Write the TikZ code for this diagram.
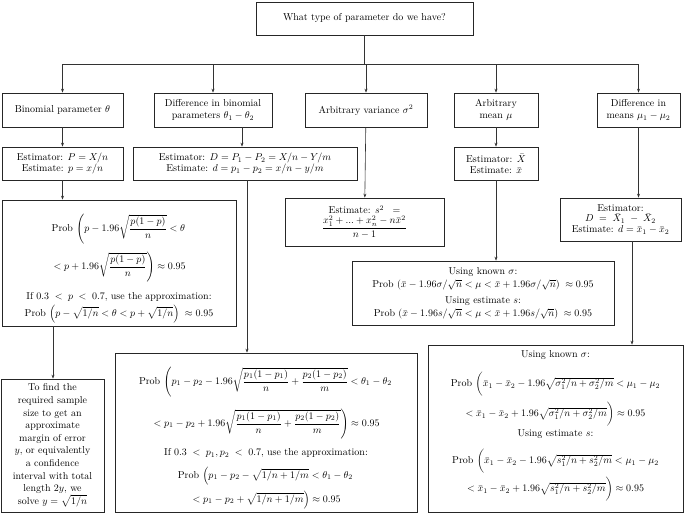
\documentclass[tikz,border=0pt]{standalone}
\usepackage{amsmath}
\usetikzlibrary{arrows.meta}
\begin{document}
\begin{tikzpicture}[x=1pt,y=-1pt,
  box/.style={draw=black!85, line width=0.7pt, inner sep=2pt, align=center, font=\normalsize},
  arr/.style={draw=black!80, line width=0.6pt, -{Stealth[length=4pt,width=3pt]}},
  ln/.style={draw=black!80, line width=0.6pt}]
\useasboundingbox (0,0) rectangle (685,527);
% top
\node[box, minimum width=217pt, minimum height=33pt] (top) at (364.5,18.5) {What type of parameter do we have?};
% row 2
\node[box, minimum width=121pt, minimum height=34pt] (bin) at (62.5,110) {Binomial parameter $\theta$};
\node[box, minimum width=118pt, minimum height=34pt] (dbin) at (213,110) {Difference in binomial\\ parameters $\theta_1-\theta_2$};
\node[box, minimum width=122pt, minimum height=34pt] (var) at (366,110) {Arbitrary variance $\sigma^2$};
\node[box, minimum width=84pt, minimum height=34pt] (mean) at (496,110) {Arbitrary\\ mean $\mu$};
\node[box, minimum width=83pt, minimum height=34pt] (dmean) at (638.5,110) {Difference in\\ means $\mu_1-\mu_2$};
% bus
\coordinate (bus) at (364.5,64);
\draw[ln] (top) -- (bus);
\foreach \n in {bin,dbin,var,mean,dmean} \draw[arr] (bus) -| (\n);
% estimators
\node[box, minimum width=121pt, minimum height=33pt] (estP) at (62.5,163.5) {Estimator: $P=X/n$\\[-1pt] Estimate: $p=x/n$};
\node[box, minimum width=224pt, minimum height=33pt] (estD) at (245,163.5) {Estimator: $D=P_1-P_2=X/n-Y/m$\\[-1pt] Estimate: $d=p_1-p_2=x/n-y/m$};
\node[box, minimum width=159pt, minimum height=48pt] (varE) at (364.5,222) {Estimate: $s^2\;\;=$\\[1pt] $\dfrac{x_1^2+...+x_n^2-n\bar{x}^2}{n-1}$};
\node[box, minimum width=84pt, minimum height=33pt] (estX) at (496,163.5) {Estimator: $\bar{X}$\\[-1pt] Estimate: $\bar{x}$};
\node[box, minimum width=121pt, minimum height=43pt, inner sep=1pt] (estDm) at (620.5,219.5) {Estimator:\\[-1.5pt] $D\;=\;\bar{X}_1\;-\;\bar{X}_2$\\[-1pt] Estimate: $d=\bar{x}_1-\bar{x}_2$};
\draw[arr] (bin) -- (estP);
\coordinate (dbout) at ([xshift=29pt]dbin.south);
\draw[arr] (dbout) -- (dbout |- estD.north);
\draw[arr] (var) -- (varE);
\draw[arr] (mean) -- (estX);
\draw[arr] (dmean.south) -- (dmean.south |- estDm.north);
% probability boxes
\node[box, minimum width=234pt, minimum height=126pt] (prob1) at (119,263) {%
\rule{0pt}{28pt}Prob $\left(p-1.96\sqrt{\dfrac{p(1-p)}{n}}<\theta\right.$\\[7pt]
$\left.<p+1.96\sqrt{\dfrac{p(1-p)}{n}}\right)\approx 0.95$\\[10pt]
If $0.3\;<\;p\;<\;0.7$, use the approximation:\\[2pt]
Prob $\left(p-\sqrt{1/n}<\theta<p+\sqrt{1/n}\right)\;\approx 0.95$};
\draw[arr] (estP) -- (estP.south |- prob1.north);
\node[box, minimum width=262pt, minimum height=64pt] (probM) at (483,293) {%
Using known $\sigma$:\\[1pt]
Prob $\left(\bar{x}-1.96\sigma/\sqrt{n}<\mu<\bar{x}+1.96\sigma/\sqrt{n}\right)\;\approx 0.95$\\[4pt]
Using estimate $s$:\\[1pt]
Prob $\left(\bar{x}-1.96s/\sqrt{n}<\mu<\bar{x}+1.96s/\sqrt{n}\right)\;\approx 0.95$};
\draw[arr] (estX) -- (estX.south |- probM.north);
\node[box, minimum width=103pt, minimum height=133pt, inner sep=1pt, font=\fontsize{10}{12.6}\selectfont] (samp) at (52.5,445.5) {%
To find the\\ required sample\\ size to get an\\ approximate\\ margin of error\\ $y$, or equivalently\\ a confidence\\ interval with total\\ length $2y$, we\\ solve $y=\sqrt{1/n}$};
\coordinate (p1out) at ([xshift=-66pt]prob1.south);
\draw[arr] (p1out) -- (p1out |- samp.north);
\node[box, minimum width=302pt, minimum height=159pt] (prob2) at (266,432.5) {%
\rule{0pt}{28pt}Prob $\left(p_1-p_2-1.96\sqrt{\dfrac{p_1(1-p_1)}{n}+\dfrac{p_2(1-p_2)}{m}}<\theta_1-\theta_2\right.$\\[11pt]
$\left.<p_1-p_2+1.96\sqrt{\dfrac{p_1(1-p_1)}{n}+\dfrac{p_2(1-p_2)}{m}}\right)\approx 0.95$\\[9pt]
If $0.3\;<\;p_1,p_2\;<\;0.7$, use the approximation:\\[8pt]
Prob $\left(p_1-p_2-\sqrt{1/n+1/m}<\theta_1-\theta_2\right.$\\[5pt]
$\left.<p_1-p_2+\sqrt{1/n+1/m}\right)\approx 0.95$};
\coordinate (dout) at ([xshift=2pt]estD.south);
\draw[arr] (dout) -- (dout |- prob2.north);
\node[box, minimum width=255pt, minimum height=167pt] (probDm) at (555.5,428.5) {%
Using known $\sigma$:\\[12pt]
Prob $\biggl(\bar{x}_1-\bar{x}_2-1.96\sqrt{\sigma_1^2/n+\sigma_2^2/m}<\mu_1-\mu_2$\\[5pt]
$<\bar{x}_1-\bar{x}_2+1.96\sqrt{\sigma_1^2/n+\sigma_2^2/m}\biggr)\approx 0.95$\\[2pt]
Using estimate $s$:\\[10pt]
Prob $\biggl(\bar{x}_1-\bar{x}_2-1.96\sqrt{s_1^2/n+s_2^2/m}<\mu_1-\mu_2$\\[3pt]
$<\bar{x}_1-\bar{x}_2+1.96\sqrt{s_1^2/n+s_2^2/m}\biggr)\approx 0.95$\rule[-15pt]{0pt}{0pt}};
\coordinate (dmout) at ([xshift=11.5pt]estDm.south);
\draw[arr] (dmout) -- (dmout |- probDm.north);
\end{tikzpicture}
\end{document}
